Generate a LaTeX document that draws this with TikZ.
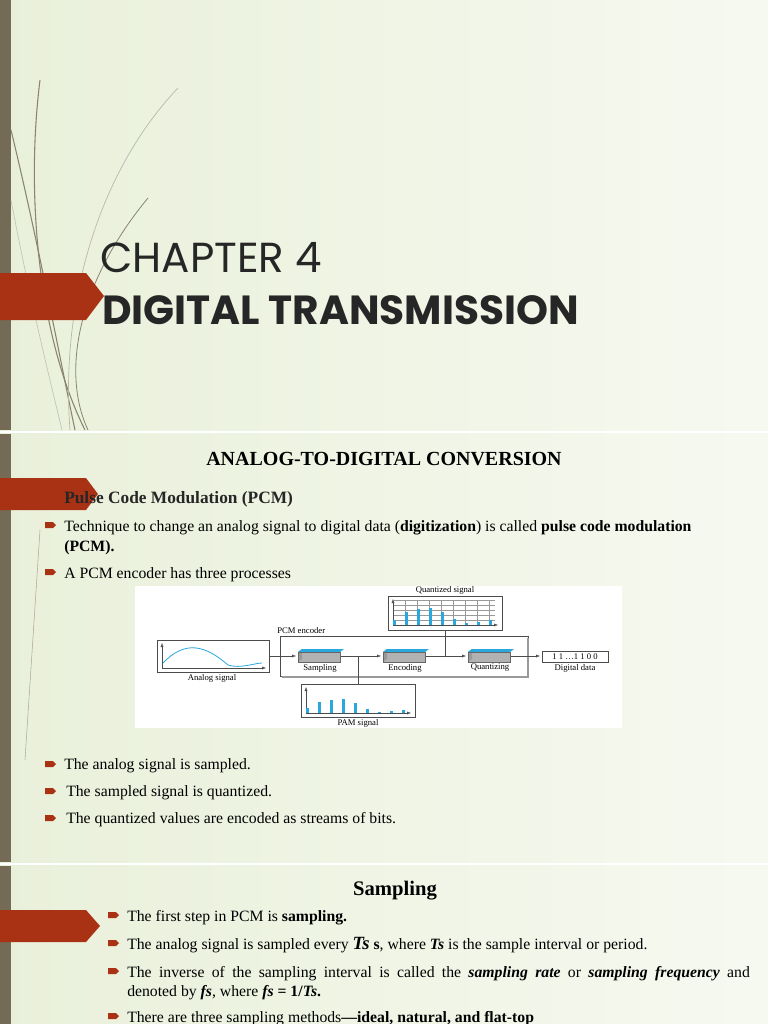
\documentclass[tikz,border=0pt]{standalone}
\usepackage{fontspec}
\setmainfont{Liberation Serif}
\newfontfamily\pop{Poppins}
\usetikzlibrary{arrows.meta}
\definecolor{bgc}{HTML}{E9F0DA}
\definecolor{barc}{HTML}{736B55}
\definecolor{redc}{HTML}{A93214}
\definecolor{cyanb}{HTML}{2AA7DC}
\definecolor{linec}{HTML}{8A8470}
\tikzset{
 px/.style={x=0.75pt,y=-0.75pt},
 body/.style={anchor=west,font=\fontsize{11.8pt}{14pt}\selectfont,inner sep=0},
 blk/.style={draw=black!70,fill=white,line width=0.4pt},
 lbl/.style={font=\fontsize{6.5pt}{7pt}\selectfont,inner sep=0},
 ar/.style={-{Latex[length=3pt]},line width=0.3pt,black!70}
}
\newcommand{\bulat}[2]{\fill[redc] (#1-5,#2-3) -- (#1+3,#2-3) -- (#1+6,#2) -- (#1+3,#2+3) -- (#1-5,#2+3) -- cycle;}
\begin{document}
\begin{tikzpicture}[px]
\useasboundingbox (0,0) rectangle (768,1024);
\shade[left color=bgc, right color=bgc!40!white] (0,0) rectangle (768,1024);
% slide separators
\draw[white,line width=1.5pt] (0,432) -- (768,432);
\draw[white,line width=1.5pt] (0,864) -- (768,864);
% left bars
\fill[barc] (0,0) rectangle (11,430);
\fill[barc] (0,434) rectangle (11,862);
\fill[barc] (0,866) rectangle (11,1024);
% decorative curves slide 1
\draw[linec,line width=0.8pt] (40,80) .. controls (25,200) and (40,340) .. (85,430);
\draw[linec,line width=0.8pt] (11,130) .. controls (40,250) and (60,360) .. (75,430);
\draw[linec!60,line width=0.5pt] (178,88) .. controls (100,170) and (60,300) .. (70,430);
\draw[linec,line width=0.6pt] (148,198) .. controls (80,280) and (60,370) .. (88,430);
\draw[linec!50,line width=0.5pt] (11,200) .. controls (30,300) and (50,380) .. (62,430);
% red arrows
\fill[redc] (0,273) -- (86,273) -- (104,296) -- (86,320) -- (0,320) -- cycle;
\fill[redc] (0,478) -- (86,478) -- (98,494) -- (86,510) -- (0,510) -- cycle;
\fill[redc] (0,910) -- (86,910) -- (100,926) -- (86,942) -- (0,942) -- cycle;
% slide 1 text
\node[anchor=base west,inner sep=0,font=\pop\fontsize{31.5pt}{31pt}\selectfont,text=black!85] (ch) at (100,272) {CHAPTER 4};
\node[anchor=base west,inner sep=0,font=\pop\bfseries\fontsize{30.5pt}{30pt}\selectfont,text=black!85] (dt) at (102,324) {DIGITAL TRANSMISSION};
% slide 2
\draw[linec!70,line width=0.4pt] (40,530) -- (25,760);
\node[anchor=base,inner sep=0,font=\bfseries\fontsize{15pt}{15pt}\selectfont] (t2) at (384,465) {ANALOG-TO-DIGITAL CONVERSION};
\node[anchor=base west,inner sep=0,font=\bfseries\fontsize{13pt}{13pt}\selectfont,text=black!85] (pcm) at (64,503) {Pulse Code Modulation (PCM)};
\bulat{50}{525}
\node[body,anchor=base west] (b1) at (64,531) {Technique to change an analog signal to digital data (\textbf{digitization}) is called \textbf{pulse code modulation}};
\node[body,anchor=base west] (b1b) at (64,551) {\textbf{(PCM).}};
\bulat{50}{572}
\node[body,anchor=base west] (b2) at (64,578) {A PCM encoder has three processes};
% figure
\fill[white] (135,586) rectangle (622,728);
\node[lbl] (qt) at (445,590) {Quantized signal};
\draw[blk] (388,596) rectangle (502,630);
\foreach \y in {600,605,610,615,620} \draw[black!40,line width=0.2pt] (394,\y) -- (495,\y);
\foreach \x in {405,417,429,441,453,465,477,489} \draw[black!40,line width=0.2pt] (\x,600) -- (\x,625);
\draw[ar] (393,625) -- (393,599);
\draw[ar] (393,625) -- (498,625);
\foreach \x/\h in {393/5,405/13,417/16,429/17,441/13,453/6,465/2,477/3,489/5} \fill[cyanb] (\x,625) rectangle (\x+3,625-\h);
\node[lbl,anchor=west] (pe) at (277,631) {PCM encoder};
\draw[black!70,line width=0.4pt,fill=white] (280,636) rectangle (528,676);
\draw[black!40,line width=1pt] (528,638) -- (528,677) -- (282,677);
\draw[blk] (157,640) rectangle (269,672);
\draw[ar] (162,668) -- (162,643);
\draw[ar] (162,668) -- (266,668);
\draw[cyanb,line width=0.6pt] (163,663) .. controls (185,640) and (205,645) .. (228,665) .. controls (240,669) and (255,663) .. (262,663);
\node[lbl] (as) at (212,678) {Analog signal};
\foreach \n/\x/\t in {s/298/Sampling,e/383/Encoding,q/468/Quantizing}{
 \fill[gray!60] (\x,652) rectangle (\x+42,662);
 \fill[gray!80] (\x,652) -- (\x+4,649) -- (\x+4,659) -- (\x,662) -- cycle;
 \fill[cyanb] (\x,652) -- (\x+4,649) -- (\x+46,649) -- (\x+42,652) -- cycle;
 \draw[black!60,line width=0.2pt] (\x,652) rectangle (\x+42,662);
 \node[lbl] (\n) at (\x+22,668) {\t};
}
\draw[ar] (269,656) -- (296,656);
\draw[ar] (341,656) -- (381,656);
\draw[ar] (426,656) -- (466,656);
\draw[ar] (511,656) -- (540,656);
\draw[black!70,line width=0.3pt] (358,656) -- (358,684);
\draw[black!70,line width=0.3pt] (445,630) -- (445,656);
\draw[blk] (542,651) rectangle (608,662);
\node[lbl] (d1) at (575,656.5) {1 1 \dots 1 1 0 0};
\node[lbl] (dd) at (575,668) {Digital data};
\draw[blk] (301,684) rectangle (415,717);
\draw[ar] (306,713) -- (306,687);
\draw[ar] (306,713) -- (411,713);
\foreach \x/\h in {306/5,318/11,330/13,342/14,354/10,366/4,378/1,390/2,402/3} \fill[cyanb] (\x,713) rectangle (\x+3,713-\h);
\node[lbl] (pam) at (358,723) {PAM signal};
% bullets after figure
\bulat{50}{764}
\node[body,anchor=base west] (b3) at (64,769) {The analog signal is sampled.};
\bulat{50}{791}
\node[body,anchor=base west] (b4) at (66,796) {The sampled signal is quantized.};
\bulat{50}{818}
\node[body,anchor=base west] (b5) at (66,823) {The quantized values are encoded as streams of bits.};
% slide 3
\node[anchor=base,inner sep=0,font=\bfseries\fontsize{15.5pt}{15pt}\selectfont] (t3) at (395,895) {Sampling};
\bulat{113}{915}
\node[body,anchor=base west] (c1) at (127,921) {The first step in PCM is \textbf{sampling.}};
\bulat{113}{943}
\node[body,anchor=base west] (c2) at (127,949) {The analog signal is sampled every \textbf{\textit{\fontsize{14pt}{14pt}\selectfont Ts}} \textbf{s}, where \textbf{\textit{Ts}} is the sample interval or period.};
\bulat{113}{971}
\node[body,anchor=base west] (c3) at (127,977) {\makebox[467pt][s]{The inverse of the sampling interval is called the \textbf{\textit{sampling rate}} or \textbf{\textit{sampling frequency}} and}};
\node[body,anchor=base west] (c3b) at (127,996) {denoted by \textbf{\textit{fs}}, where \textbf{\textit{fs}} \textbf{= 1/}\textbf{\textit{Ts}}\textbf{.}};
\bulat{113}{1016}
\node[body,anchor=base west] (c4) at (127,1022) {There are three sampling methods\textbf{---ideal, natural, and flat-top}};
\end{tikzpicture}
\end{document}
